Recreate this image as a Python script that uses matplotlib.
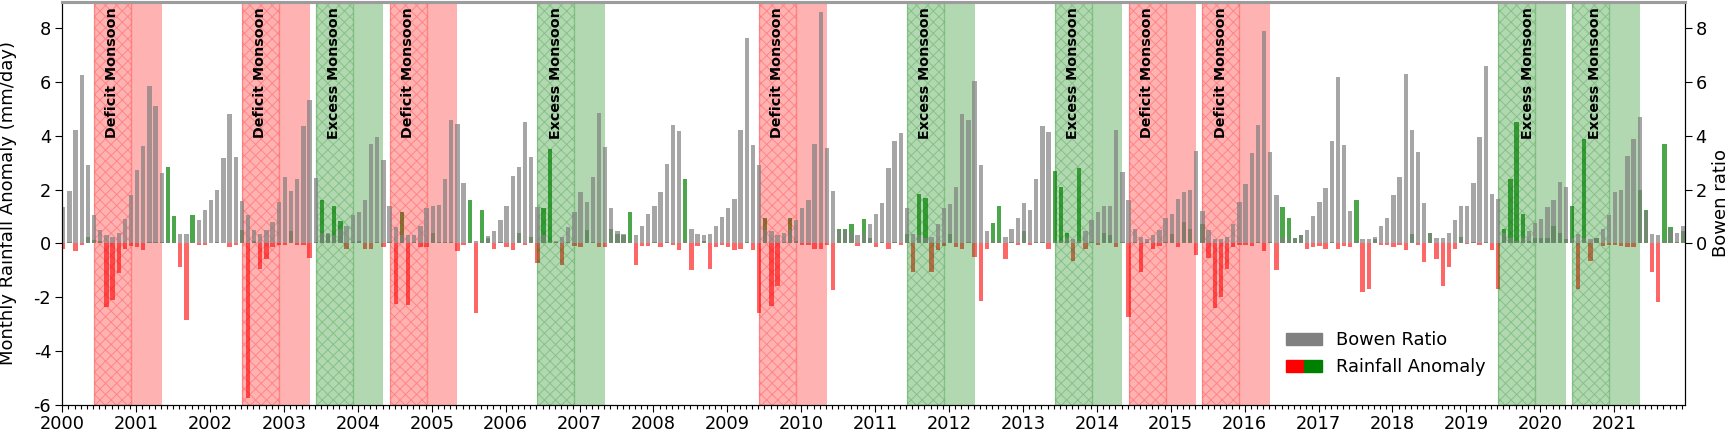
import numpy as np
import matplotlib
matplotlib.use("Agg")
import matplotlib.pyplot as plt
from matplotlib.colors import to_rgba
from matplotlib.patches import Patch
from matplotlib.legend_handler import HandlerTuple

years = np.arange(2000, 2022)

# monthly Bowen ratio, Jan 2000 .. Dec 2021 (one row per year)
bowen = [
    1.35, 1.95, 4.2, 6.28, 2.92, 1.07, 0.48, 0.32, 0.24, 0.38, 0.9, 1.78,
    2.71, 3.64, 5.87, 5.12, 2.63, 0.1, 0.05, 0.35, 0.35, 0.05, 0.87, 1.25,
    1.6, 2.0, 3.17, 4.82, 3.2, 1.57, 1.05, 0.5, 0.35, 0.5, 0.8, 1.55,
    2.45, 1.95, 2.4, 4.35, 5.35, 2.42, 0.4, 0.4, 0.3, 0.55, 0.65, 1.05,
    1.15, 1.6, 3.7, 3.95, 3.1, 1.39, 0.6, 0.3, 0.3, 0.3, 0.65, 1.3,
    1.4, 1.42, 2.4, 4.6, 4.45, 2.25, 0.1, 0.1, 0.1, 0.27, 0.45, 0.85,
    1.4, 2.5, 2.85, 4.5, 3.2, 1.35, 0.3, 0.05, 0.1, 0.25, 0.6, 1.15,
    1.9, 1.55, 2.45, 4.85, 3.6, 1.3, 0.45, 0.35, 0.1, 0.3, 0.65, 1.1,
    1.4, 1.9, 2.95, 4.4, 4.18, 0.1, 0.55, 0.35, 0.3, 0.35, 0.65, 0.98,
    1.3, 1.65, 4.2, 7.65, 3.65, 2.9, 0.5, 0.45, 0.3, 0.4, 0.5, 0.85,
    1.3, 1.6, 3.7, 8.6, 3.55, 1.95, 0.5, 0.5, 0.4, 0.3, 0.4, 0.7,
    1.1, 1.5, 2.8, 3.8, 4.1, 1.3, 0.35, 0.3, 0.2, 0.25, 0.7, 1.3,
    1.45, 2.1, 4.8, 4.6, 6.05, 2.9, 0.45, 0.1, 0.1, 0.25, 0.55, 0.95,
    1.5, 1.25, 2.4, 4.35, 4.15, 0.1, 0.1, 0.2, 0.15, 0.1, 0.45, 0.85,
    1.15, 1.4, 1.4, 4.2, 2.65, 1.6, 0.55, 0.25, 0.15, 0.3, 0.5, 0.95,
    1.1, 1.65, 1.9, 2.0, 3.45, 1.2, 0.5, 0.15, 0.15, 0.25, 0.7, 1.55,
    2.2, 3.35, 4.4, 7.9, 3.4, 1.8, 0.2, 0.2, 0.2, 0.3, 0.5, 1.0,
    1.55, 2.05, 3.8, 6.2, 3.65, 1.2, 0.1, 0.15, 0.15, 0.25, 0.65, 0.95,
    1.8, 2.45, 6.3, 4.2, 3.4, 1.5, 0.4, 0.2, 0.2, 0.4, 0.85, 1.4,
    1.4, 2.25, 3.95, 6.6, 1.85, 1.65, 0.4, 0.2, 0.1, 0.2, 0.45, 0.75,
    0.9, 1.35, 1.6, 2.3, 2.1, 0.2, 0.35, 0.2, 0.15, 0.2, 0.55, 1.05,
    1.9, 2.0, 3.25, 3.9, 4.7, 1.2, 0.35, 0.3, 0.1, 0.5, 0.4, 0.65,
]

# monthly rainfall anomaly (mm/day)
rain = [
    -0.2, 0.05, -0.28, -0.08, 0.22, 0.12, 0.1, -2.37, -2.12, -1.12, -0.22, -0.1,
    -0.12, -0.25, 0.05, 0.05, 0.05, 2.84, 1.0, -0.88, -2.85, 1.05, -0.05, -0.08,
    0.0, 0.03, 0.0, -0.15, -0.08, 0.48, -5.77, 0.1, -0.95, -0.6, -0.15, -0.05,
    -0.05, 0.45, -0.05, -0.05, -0.55, 0.05, 1.6, 0.35, 1.4, 0.82, -0.2, 0.05,
    0.1, -0.2, -0.22, 0.05, -0.12, 0.05, -2.25, 1.15, -2.3, 0.05, -0.15, -0.15,
    0.4, 0.05, 0.05, 0.05, -0.3, -0.05, 1.6, -2.6, 1.25, 0.2, -0.2, 0.05,
    -0.15, -0.25, 0.4, -0.05, 0.25, -0.72, 1.33, 3.5, 0.05, -0.8, 0.05, -0.1,
    -0.15, 0.5, 0.05, -0.15, -0.15, 0.55, 0.35, 0.3, 1.15, -0.8, -0.1, -0.1,
    0.05, -0.15, 0.05, -0.05, -0.25, 2.4, -1.0, -0.1, 0.1, -0.95, -0.15, -0.05,
    -0.15, -0.25, -0.2, 0.05, -0.25, -2.6, 0.95, -2.35, -1.6, 0.05, 0.95, 0.1,
    -0.05, -0.05, -0.2, -0.2, -0.05, -1.75, 0.55, 0.55, 0.7, -0.1, 0.9, 0.2,
    -0.15, 0.05, -0.2, 0.05, -0.08, 0.35, -1.05, 1.85, 1.7, -1.05, -0.25, -0.1,
    0.35, -0.15, -0.2, 0.05, -0.5, -2.15, -0.2, 0.75, 1.4, -0.6, 0.05, -0.05,
    0.45, -0.08, 0.05, 0.05, -0.2, 2.7, 2.1, 0.4, -0.65, 2.8, -0.2, 0.05,
    -0.05, 0.4, 0.3, -0.15, 0.05, -2.75, 0.05, -1.05, 0.05, -0.2, -0.1, 0.05,
    0.35, -0.15, 0.8, 0.55, -0.45, 0.7, -0.55, -2.4, -2.0, -0.95, -0.15, -0.05,
    -0.05, -0.1, 0.05, -0.3, 0.05, -1.0, 1.35, 0.95, 0.2, 0.3, -0.2, -0.12,
    -0.1, -0.2, 0.05, -0.22, -0.1, -0.15, 1.6, -1.8, -1.7, 0.15, -0.08, -0.05,
    -0.15, -0.08, -0.25, 0.35, -0.05, -0.7, 0.4, -0.6, -1.6, -0.9, -0.2, 0.25,
    -0.02, 0.05, -0.08, 0.05, -0.25, -1.7, 0.55, 2.4, 4.5, 1.1, 0.1, 0.2,
    0.2, 0.2, 0.65, 0.4, 0.15, 1.4, -1.7, 3.9, -0.65, 0.2, -0.1, -0.05,
    -0.08, -0.1, -0.15, -0.15, 2.0, 1.25, -1.05, -2.2, 3.7, 0.6, 0.05, 0.45,
]

deficit_years = [2000, 2002, 2004, 2009, 2014, 2015]
excess_years = [2003, 2006, 2011, 2013, 2019, 2020]

plt.rcParams['axes.unicode_minus'] = False
plt.rcParams['hatch.linewidth'] = 0.7

bowen = np.array(bowen)
rain = np.array(rain)
idx = np.arange(len(bowen))
xc = years[0] + (idx + 0.15) / 12.0   # bar centres
bw = 0.7 / 12

fig = plt.figure(figsize=(17.25, 4.3), dpi=100)
ax = fig.add_axes([0.0357, 0.0593, 0.9411, 0.9372])

# rainfall anomaly bars
cols = [to_rgba('green', 0.7) if r >= 0 else to_rgba('red', 0.6) for r in rain]
ax.bar(xc, rain, width=bw, color=cols)

# monsoon shading (solid Jun->May, hatched Jun->Dec)
def cx(y, m):
    return years[0] + ((y - years[0]) * 12 + m + 0.15) / 12.0

shift = {2019: 0.83, 2020: 0.74}
for yrs, c in [(deficit_years, 'red'), (excess_years, 'green')]:
    for y in yrs:
        ax.axvspan(cx(y, 5), cx(y, 16), color=c, alpha=0.3, lw=0)
        ax.axvspan(cx(y, 5), cx(y, 11), fill=False, hatch='xxx',
                   edgecolor=to_rgba(c, 0.25), lw=1)

ax2 = ax.twinx()
ax2.bar(xc, bowen, width=bw, color='grey', alpha=0.7)

for yrs, name in [(deficit_years, 'Deficit Monsoon'), (excess_years, 'Excess Monsoon')]:
    for y in yrs:
        ax2.text(y + shift.get(y, 0.675), 8.8, name, rotation=90, ha='center',
                 va='top', fontsize=10.3, fontweight='bold')

for a in (ax, ax2):
    a.set_ylim(-6, 9)
    a.set_xlim(1999.99, years[0] + 263.5 / 12)
    a.tick_params(axis='both', which='major', length=5, width=0.8, pad=2.5,
                  labelsize=12.8)
    a.tick_params(axis='both', which='minor', length=3, width=0.8)
    a.spines['top'].set_color('#9c9c9c')
    a.spines['top'].set_linewidth(2.2)

ax.set_xticks(years)
ax.set_xticks(np.arange(2000, 2022, 1 / 12.0), minor=True)
ax.set_yticks(np.arange(-6, 9, 2))
ax2.set_yticks(np.arange(0, 9, 2))
ax.set_ylabel('Monthly Rainfall Anomaly (mm/day)', fontsize=13, labelpad=12)
ax2.set_ylabel('Bowen ratio', fontsize=13)

handles = [Patch(color='grey'), (Patch(color='red'), Patch(color='green'))]
ax2.legend(handles, ['Bowen Ratio', 'Rainfall Anomaly'],
           handler_map={tuple: HandlerTuple(ndivide=None, pad=0)},
           frameon=False, fontsize=12.8, loc='lower left',
           bbox_to_anchor=(0.75, 0.053), borderaxespad=0)

fig.savefig('out.png', dpi=100)
